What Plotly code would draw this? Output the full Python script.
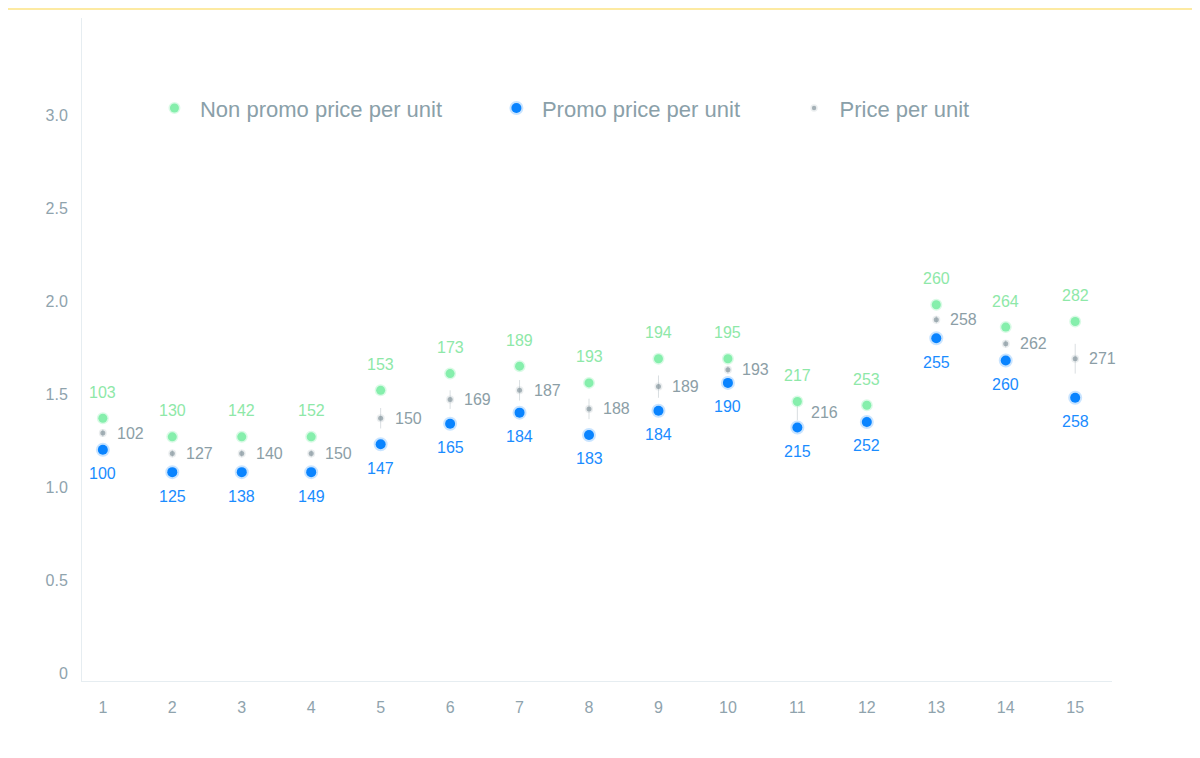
import plotly.graph_objects as go

# Datos
periods = list(range(1, 16))

non_promo_price = [1.37, 1.27, 1.27, 1.27, 1.52, 1.61, 1.65, 1.56, 1.69, 1.69, 1.46, 1.44, 1.98, 1.86, 1.89]
promo_price = [1.20, 1.08, 1.08, 1.08, 1.23, 1.34, 1.40, 1.28, 1.41, 1.56, 1.32, 1.35, 1.80, 1.68, 1.48]
unit_price = [1.29, 1.18, 1.18, 1.18, 1.37, 1.47, 1.52, 1.42, 1.54, 1.63, 1.40, 1.35, 1.90, 1.77, 1.69]
unit_price_err = [0.02, 0.02, 0.02, 0.02, 0.055, 0.05, 0.055, 0.055, 0.06, 0.02, 0.04, 0.03, 0.02, 0.02, 0.08]

non_promo_labels = ["103", "130", "142", "152", "153", "173", "189", "193", "194", "195", "217", "253", "260", "264", "282"]
promo_labels = ["100", "125", "138", "149", "147", "165", "184", "183", "184", "190", "215", "252", "255", "260", "258"]
unit_labels = ["102", "127", "140", "150", "150", "169", "187", "188", "189", "193", "216", "", "258", "262", "271"]

y_ticks = [0, 0.5, 1.0, 1.5, 2.0, 2.5, 3.0]
y_tick_text = ["0", "0.5", "1.0", "1.5", "2.0", "2.5", "3.0"]

GREEN = "#86efac"
BLUE = "#0a84ff"
GREY = "#7f9199"
TEXT = "#8fa3ad"
FONT = "Liberation Sans, Arial, sans-serif"

# puntos ocultos en el original (11 y 12 de la serie gris)
hidden = [11, 12]
grey_sizes = [0 if p in hidden else 5 for p in periods]

fig = go.Figure()

fig.add_trace(go.Scatter(
    x=periods, y=unit_price, mode="markers", name="Price per unit",
    marker=dict(size=grey_sizes, color=GREY, line=dict(width=3, color="rgba(127,145,153,0.22)")),
    error_y=dict(type="data", array=unit_price_err, color="rgba(170,182,188,0.45)", thickness=1, width=0),
    legend="legend3",
))
fig.add_trace(go.Scatter(
    x=periods, y=non_promo_price, mode="markers", name="Non promo price per unit",
    marker=dict(size=9, color=GREEN, line=dict(width=3, color="rgba(134,239,172,0.3)")),
    legend="legend",
))
fig.add_trace(go.Scatter(
    x=periods, y=promo_price, mode="markers", name="Promo price per unit",
    marker=dict(size=10, color=BLUE, line=dict(width=4, color="rgba(10,132,255,0.22)")),
    legend="legend2",
))

# Etiquetas de valores
annotations = []
for x, y, t in zip(periods, non_promo_price, non_promo_labels):
    annotations.append(dict(x=x, y=y, text=t, showarrow=False, yshift=26,
                            font=dict(size=16, color="#8ee8a8", family=FONT)))
for x, y, t in zip(periods, promo_price, promo_labels):
    annotations.append(dict(x=x, y=y, text=t, showarrow=False, yshift=-24,
                            font=dict(size=16, color="#1a8cff", family=FONT)))
for x, y, t in zip(periods, unit_price, unit_labels):
    if t:
        annotations.append(dict(x=x, y=y, text=t, showarrow=False, xanchor="left", xshift=12,
                                font=dict(size=16, color="#8c9ea6", family=FONT)))

legend_style = dict(orientation="h", yanchor="middle", y=0.864, xanchor="left", itemwidth=41,
                    font=dict(size=22, color="#8aa0a9", family=FONT), bgcolor="rgba(0,0,0,0)")

fig.update_layout(
    width=1200,
    height=758,
    margin=dict(l=74, r=96, t=10, b=85),
    plot_bgcolor="white",
    paper_bgcolor="white",
    showlegend=True,
    font=dict(family=FONT, color=TEXT),
    annotations=annotations,
    legend=dict(legend_style, x=0.065),
    legend2=dict(legend_style, x=0.397),
    legend3=dict(legend_style, x=0.686),
    shapes=[dict(type="line", xref="paper", yref="paper", x0=-0.1, x1=1.1, y0=1.0136, y1=1.0136,
                 line=dict(color="#fdeaa2", width=2))],
)
fig.update_xaxes(
    range=[0.7, 15.53], tickmode="array", tickvals=periods, ticktext=[str(p) for p in periods],
    showgrid=False, zeroline=False, showline=True, linecolor="#e6edf1", linewidth=1,
    ticks="outside", ticklen=12, tickcolor="rgba(0,0,0,0)", tickfont=dict(size=16, color=TEXT),
)
fig.update_yaxes(
    range=[-0.043, 3.522], tickmode="array", tickvals=y_ticks, ticktext=y_tick_text,
    showgrid=False, zeroline=False, showline=True, linecolor="#e6edf1", linewidth=1,
    ticks="outside", ticklen=10, tickcolor="rgba(0,0,0,0)", tickfont=dict(size=16, color=TEXT),
)

fig.write_html("out.html")
